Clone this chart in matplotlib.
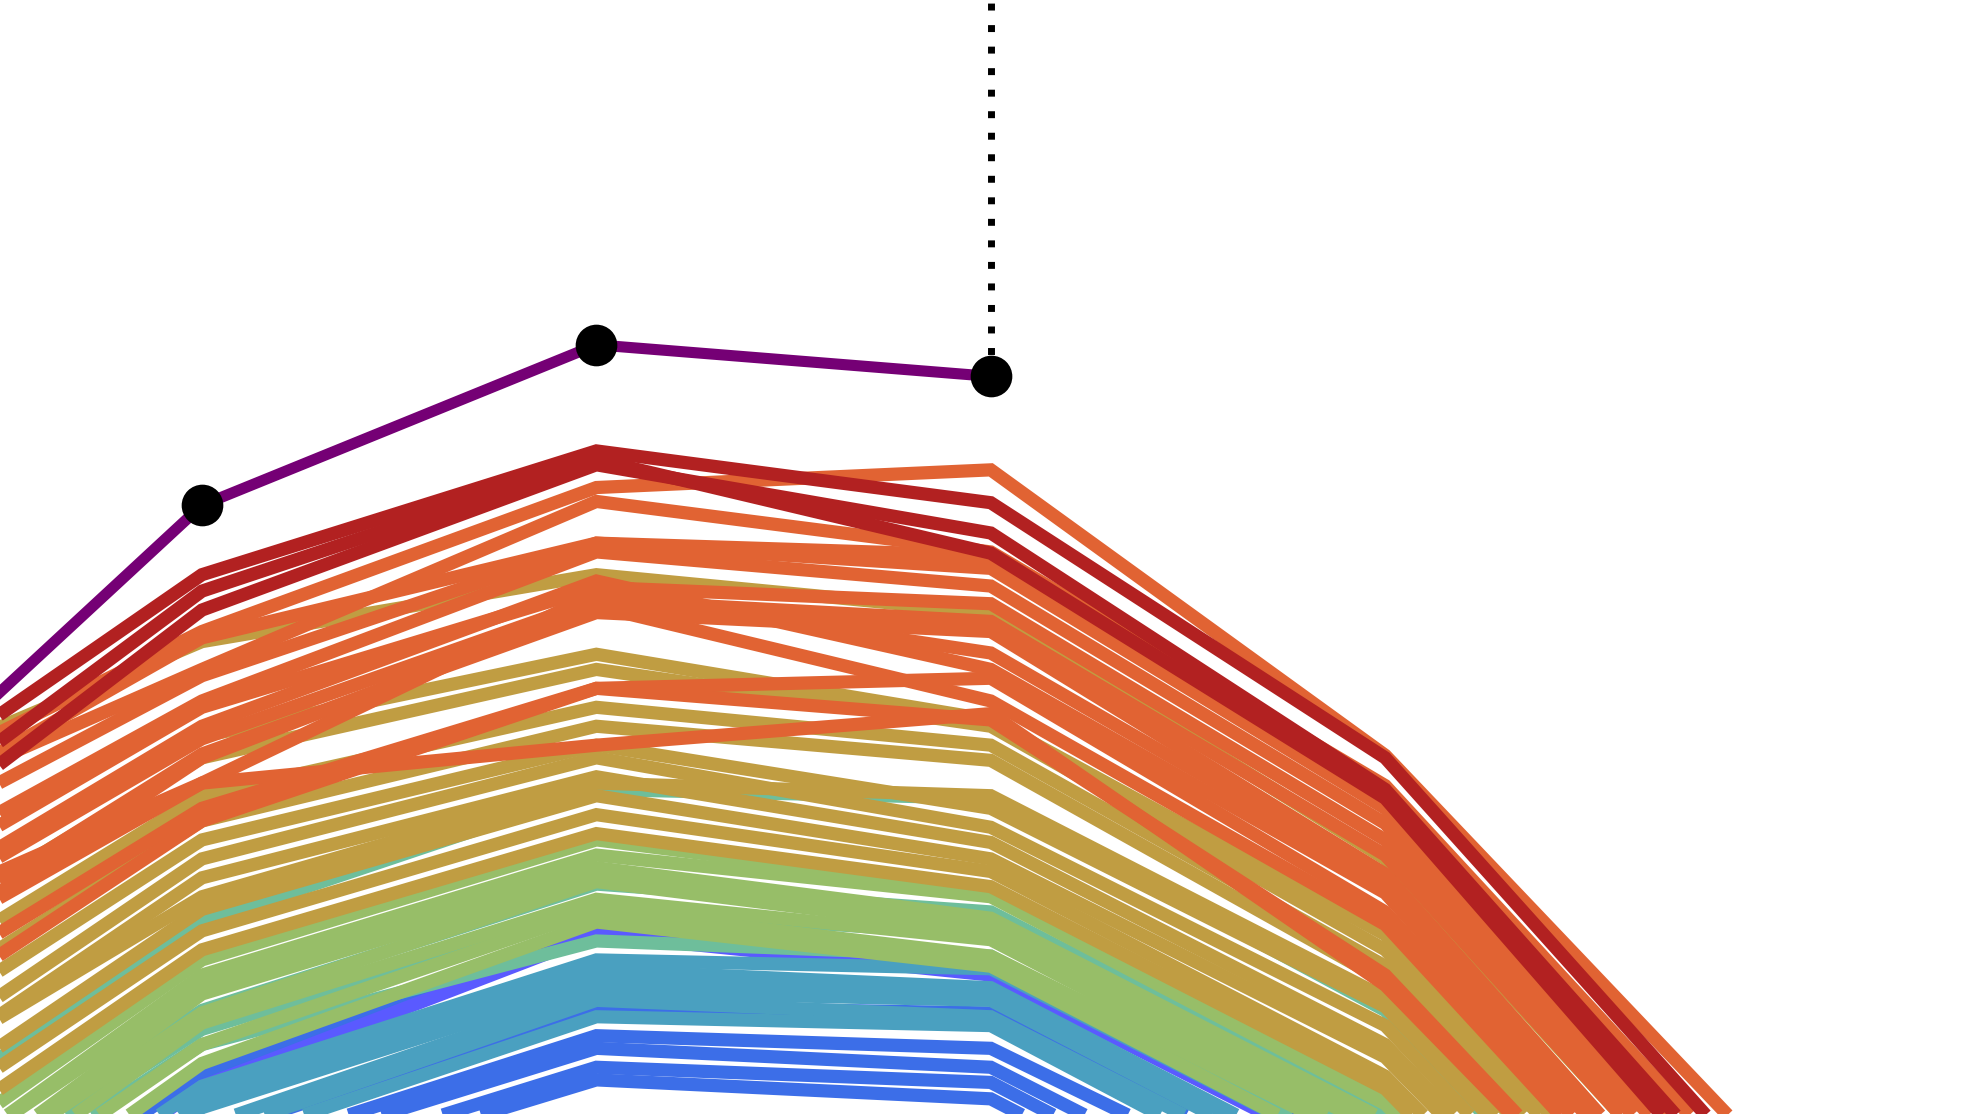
import matplotlib.pyplot as plt


# ── Дані: місяці (індекси) та значення по групах років ─────────────────────

months = [0, 1, 2, 3, 4, 5]

blue_years = [
    [-1.78, 0.32, 1.47, 1.22, -0.38, -3.58],
    [-2.30, -0.18, 0.85, 0.80, -0.83, -4.03],
    [-2.62, -0.38, 0.62, 0.52, -1.00, -4.23],
    [-2.68, -0.45, 0.52, 0.37, -1.22, -4.38],
    [-2.75, -0.60, 0.37, 0.25, -1.38, -4.58],
    [-2.90, -0.68, 0.27, 0.12, -1.50, -4.68],
]
violet_years = [
    [-1.98, 0.22, 1.42, 1.10, -0.48, -3.68],
]
steel_years = [
    [-1.90, 0.22, 1.22, 1.15, -0.45, -3.68],
    [-2.15, 0.12, 1.14, 1.00, -0.62, -3.80],
    [-2.10, 0.05, 1.05, 0.97, -0.65, -3.85],
    [-2.35, -0.10, 0.97, 0.90, -0.72, -3.95],
    [-2.30, -0.18, 0.90, 0.77, -0.82, -4.00],
    [-2.55, -0.28, 0.77, 0.70, -0.95, -4.15],
]
teal_years = [
    [-0.58, 1.52, 2.57, 2.50, 0.82, -2.48],
    [-1.20, 0.82, 1.82, 1.60, 0.00, -3.20],
    [-1.45, 0.55, 1.37, 1.25, -0.40, -3.55],
    [-1.30, 0.67, 1.62, 1.42, -0.20, -3.40],
]
green_years = [
    [-0.98, 1.22, 2.17, 1.77, 0.12, -3.08],
    [-1.15, 1.10, 2.05, 1.72, 0.08, -3.15],
    [-1.10, 1.02, 1.95, 1.55, -0.05, -3.20],
    [-1.35, 0.95, 1.90, 1.50, -0.12, -3.30],
    [-1.30, 0.80, 1.84, 1.45, -0.15, -3.35],
    [-1.55, 0.72, 1.70, 1.38, -0.25, -3.45],
    [-1.60, 0.55, 1.62, 1.25, -0.30, -3.50],
    [-1.82, 0.40, 1.52, 1.17, -0.45, -3.65],
]
olive_years = [
    [2.42, 3.74, 4.27, 3.97, 2.02, -1.38],
    [1.22, 2.99, 3.64, 3.12, 1.42, -1.98],
    [0.95, 2.82, 3.52, 3.07, 1.30, -2.05],
    [0.60, 2.52, 3.22, 2.92, 1.17, -2.20],
    [0.35, 2.32, 3.07, 2.80, 1.05, -2.30],
    [0.15, 2.17, 2.92, 2.42, 0.85, -2.45],
    [-0.10, 2.02, 2.82, 2.27, 0.70, -2.60],
    [-0.25, 1.87, 2.67, 2.15, 0.55, -2.70],
    [-0.50, 1.62, 2.52, 2.02, 0.45, -2.75],
    [-0.65, 1.45, 2.37, 1.92, 0.30, -2.90],
    [-0.85, 1.30, 2.22, 1.80, 0.20, -3.00],
    [-0.15, 1.72, 2.62, 2.52, 0.92, -2.38],
]
orange_years = [
    [2.26, 3.82, 4.96, 5.10, 2.84, -0.44],
    [2.15, 3.52, 4.85, 4.45, 2.60, -0.78],
    [1.82, 3.47, 4.52, 4.32, 2.42, -1.03],
    [1.55, 3.27, 4.45, 4.18, 2.30, -1.15],
    [1.40, 3.22, 4.17, 4.04, 2.17, -1.30],
    [1.15, 2.97, 4.07, 3.90, 2.05, -1.40],
    [0.90, 2.85, 3.97, 3.82, 1.90, -1.60],
    [0.85, 2.62, 4.12, 3.65, 1.85, -1.65],
    [0.50, 2.42, 3.37, 3.45, 1.60, -1.80],
    [1.25, 2.62, 2.92, 3.17, 1.02, -2.18],
    [0.75, 2.82, 4.02, 3.27, 1.50, -1.90],
    [1.20, 3.07, 4.22, 3.52, 1.75, -1.70],
    [2.00, 3.77, 4.52, 4.42, 2.45, -0.95],
    [0.25, 2.32, 3.37, 3.12, 1.10, -2.20],
]
red_years = [
    [2.11, 4.27, 5.25, 4.84, 2.82, -0.66],
    [1.82, 4.14, 5.18, 4.44, 2.50, -1.08],
    [1.61, 3.99, 5.14, 4.60, 2.57, -0.93],
]

# поточний рік — лише перші місяці
current_months = [0, 1, 2, 3]
current_year = [1.93, 4.82, 6.09, 5.84]


# ── Кольори ────────────────────────────────────────────────────────────────

groups = [
    (blue_years,   '#3C6EE8'),
    (violet_years, '#5A5AFF'),
    (steel_years,  '#4AA0C0'),
    (teal_years,   '#6EBE9B'),
    (green_years,  '#97BE68'),
    (olive_years,  '#C09D42'),
    (orange_years, '#E16333'),
    (red_years,    '#B22121'),
]
CURRENT_COLOR = '#750075'


fig = plt.figure(figsize=(19.8, 11.14), dpi=100)
ax = fig.add_axes([0, 0, 1, 1])
ax.axis('off')

for years, color in groups:
    for vals in years:
        ax.plot(months, vals, color=color, lw=9.5,
                solid_joinstyle='miter', solid_capstyle='butt')

# вертикальна пунктирна лінія від останньої точки
ax.plot([current_months[-1], current_months[-1]], [current_year[-1], 10],
        color='black', lw=5, linestyle=(0, (1, 2.1)),
        dash_capstyle='butt', zorder=4)

ax.plot(current_months, current_year, color=CURRENT_COLOR, lw=8,
        solid_joinstyle='miter', zorder=5)
ax.plot(current_months, current_year, 'o', color='black',
        markersize=30, markeredgewidth=0, zorder=6)

ax.set_xlim(0.488, 5.508)
ax.set_ylim(0, 8.82)

fig.savefig('out.png', dpi=100, facecolor='white')
